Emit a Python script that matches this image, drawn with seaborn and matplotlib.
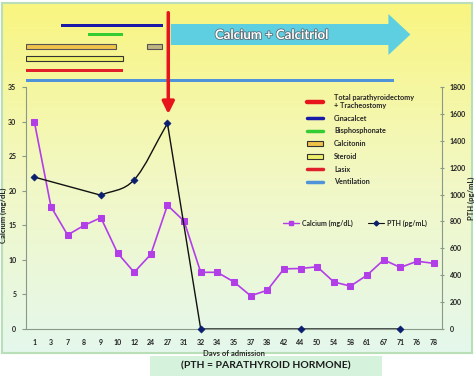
import matplotlib
matplotlib.use('Agg')
import matplotlib.pyplot as plt
import matplotlib.patheffects as pe
from matplotlib.patches import Patch, FancyArrow, PathPatch, Rectangle
from matplotlib.lines import Line2D
from matplotlib.path import Path
import seaborn as sns
import numpy as np
import pandas as pd

# data --------------------------------------------------------------------
days = ['1', '3', '7', '8', '9', '10', '12', '24', '27', '31', '32', '34', '35',
        '37', '38', '42', '44', '50', '54', '58', '61', '67', '71', '76', '78']
calcium = [30.0, 17.7, 13.6, 15.0, 16.1, 11.0, 8.2, 10.8, 17.9, 15.6, 8.2, 8.2, 6.8,
           4.8, 5.6, 8.7, 8.75, 9.0, 6.8, 6.2, 7.8, 10.0, 8.9, 9.8, 9.5]

pth_days = ['1', '9', '12', '27', '32', '44', '71']
pth = [1130, 995, 1110, 1530, 0, 0, 0]

# treatments, start/end in positions on the day axis
treat_names = ['Cinacalcet', 'Bisphosphonate', 'Calcitonin', 'Calcitonin', 'Steroid', 'Lasix', 'Ventilation']
treat_start = [1.6, 3.25, -0.5, 6.75, -0.5, -0.5, -0.5]
treat_end = [7.75, 5.33, 4.9, 7.7, 5.35, 5.3, 21.6]
surgery_pos = 8.05
calcitriol_start = 8.2
calcitriol_end = 22.6

# styling ------------------------------------------------------------------
sns.set_style('white')
plt.rcParams['font.family'] = ['Lato', 'DejaVu Sans']
plt.rcParams['font.weight'] = 'bold'

W, H = 474, 379
fig = plt.figure(figsize=(W / 100, H / 100), dpi=100)
fig.patch.set_facecolor('white')

def fx(px):
    return px / W

def fy(py):
    return 1 - py / H

# background panel with yellow -> mint gradient
bg = fig.add_axes([fx(2), fy(353), fx(470), 350 / H], zorder=-5)
top_c = np.array([249, 245, 128]) / 255
mid_c = np.array([242, 248, 196]) / 255
bot_c = np.array([228, 247, 236]) / 255
t = np.linspace(0, 1, 200)[:, None]
grad = np.where(t < 0.5, top_c + (mid_c - top_c) * (t / 0.5), mid_c + (bot_c - mid_c) * ((t - 0.5) / 0.5))
bg.imshow(grad[:, None, :].repeat(2, axis=1), aspect='auto', extent=[0, 1, 0, 1])
bg.set_xticks([])
bg.set_yticks([])
for s in bg.spines.values():
    s.set_color('#b9dfb9')
    s.set_linewidth(1.5)

# footer box
fig.patches.append(Rectangle((fx(150), fy(376)), fx(232), 20 / H, transform=fig.transFigure,
                             facecolor='#d5f2dc', edgecolor='none'))
fig.text(fx(266), fy(366), '(PTH = PARATHYROID HORMONE)', ha='center', va='center',
         fontsize=7.5, fontweight='bold', color='#1a1a1a')

# top axes for treatment bars
ax_top = fig.add_axes([fx(26), fy(87), fx(416), 87 / H])
ax_top.set_xlim(-0.5, 24.5)
ax_top.set_ylim(87, 0)
ax_top.axis('off')

rows = [25.7, 34.7, 46.3, 46.3, 58.3, 70.0, 80.7]
styles = {
    'Cinacalcet': dict(color='#1a1aa8', edge='none', h=3.0),
    'Bisphosphonate': dict(color='#33cc33', edge='none', h=3.0),
    'Calcitonin': dict(color='#f0c24a', edge='#555555', h=4.5),
    'Steroid': dict(color='#eef06a', edge='#333333', h=4.5),
    'Lasix': dict(color='#e0202a', edge='none', h=3.0),
    'Ventilation': dict(color='#4f93d8', edge='none', h=2.5),
}
for i, name in enumerate(treat_names):
    st = styles[name]
    fc = st['color']
    if name == 'Calcitonin' and i == 3:
        fc = '#bfb483'
    ax_top.barh(rows[i], treat_end[i] - treat_start[i], left=treat_start[i], height=st['h'],
                color=fc, edgecolor=st['edge'], linewidth=0.8)

ax_top.add_patch(FancyArrow(calcitriol_start, 34.5, calcitriol_end - calcitriol_start, 0,
                            width=21, head_width=41, head_length=1.32, length_includes_head=True,
                            color='#5dcfe0', linewidth=0))
ax_top.text(14.3, 35, 'Calcium + Calcitriol', ha='center', va='center', fontsize=9.5,
            color='white', fontweight='bold',
            path_effects=[pe.withStroke(linewidth=1.2, foreground='#5a6f78')])

# main axes
ax = fig.add_axes([fx(26), fy(329), fx(416), 242 / H])
ax.patch.set_alpha(0)
pos = np.arange(len(days))
df = pd.DataFrame({'pos': pos, 'day': days, 'calcium': calcium})
sns.lineplot(data=df, x='pos', y='calcium', ax=ax, color='#b23ee8', marker='s',
             markersize=4, markeredgecolor='#b23ee8', linewidth=1.2, label='Calcium (mg/dL)',
             legend=False)
ax.set_xlim(-0.5, 24.5)
ax.set_ylim(0, 35)
ax.set_yticks(range(0, 36, 5))
ax.set_xticks(pos)
ax.set_xticklabels(days)
ax.set_xticks(np.arange(-0.5, 25, 1), minor=True)
ax.tick_params(axis='x', which='major', length=0, pad=7, labelsize=5, colors='#222222')
ax.tick_params(axis='x', which='minor', length=4, direction='inout', color='#8a9a8a', width=0.6)
ax.tick_params(axis='y', length=3, direction='out', labelsize=5, pad=4, colors='#222222', color='#8a9a8a')
ax.set_xlabel('Days of admission', fontsize=5.5, fontweight='bold', labelpad=3)
ax.set_ylabel('Calcium (mg/dL)', fontsize=5.5, fontweight='bold')
ax.yaxis.set_label_coords(-0.045, 0.47)
for side in ['left', 'bottom']:
    ax.spines[side].set_color('#8a9a8a')
    ax.spines[side].set_linewidth(0.8)
ax.spines['top'].set_visible(False)
ax.spines['right'].set_visible(False)

# PTH on a twin axis
ax2 = ax.twinx()
pth_pos = [days.index(d) for d in pth_days]
pth_df = pd.DataFrame({'pos': pth_pos, 'pth': pth})
x_p = pth_df['pos'].to_numpy(dtype=float)
y_p = pth_df['pth'].to_numpy(dtype=float)
# smoothed segment through days 9-12-27, straight elsewhere
t4 = np.array([x_p[2] - x_p[1], y_p[2] - y_p[1]])
t6 = np.array([(x_p[3] - x_p[1]) / 2, (y_p[3] - y_p[1]) / 2])
t8 = np.array([x_p[3] - x_p[2], y_p[3] - y_p[2]])
p = np.column_stack([x_p, y_p])
verts = [p[0], p[1],
         p[1] + t4 / 3, p[2] - t6 / 3, p[2],
         p[2] + t6 / 3, p[3] - t8 / 3, p[3],
         p[4], p[5], p[6]]
codes = [Path.MOVETO, Path.LINETO,
         Path.CURVE4, Path.CURVE4, Path.CURVE4,
         Path.CURVE4, Path.CURVE4, Path.CURVE4,
         Path.LINETO, Path.LINETO, Path.LINETO]
ax2.add_patch(PathPatch(Path(verts, codes), facecolor='none', edgecolor='#111111', linewidth=1.0))
sns.scatterplot(data=pth_df, x='pos', y='pth', ax=ax2, marker='D', s=14, color='#0b1f70',
                edgecolor='#0b1f70', zorder=5, clip_on=False, legend=False)
ax2.set_ylim(0, 1800)
ax2.set_yticks(range(0, 1801, 200))
ax2.tick_params(axis='y', length=3, direction='inout', labelsize=5, pad=4, colors='#222222', color='#8a9a8a')
ax2.set_ylabel('PTH (pg/mL)', fontsize=5.5, fontweight='bold')
ax2.yaxis.set_label_coords(1.062, 0.54)
ax2.set_xlabel('Days of admission', fontsize=5.5, fontweight='bold', labelpad=3)
ax2.spines['right'].set_color('#8a9a8a')
ax2.spines['right'].set_linewidth(0.8)
for side in ['left', 'bottom', 'top']:
    ax2.spines[side].set_visible(False)

# surgery marker: red vertical arrow
ax.annotate('', xy=(surgery_pos, 31.1), xytext=(surgery_pos, 45.75), xycoords='data',
            arrowprops=dict(arrowstyle='-|>,head_length=0.6,head_width=0.3', color='#e8141c',
                            lw=2.5, mutation_scale=12, shrinkA=0, shrinkB=0),
            annotation_clip=False, zorder=10)

# treatment legend
treat_handles = [
    Line2D([], [], color='#e8141c', lw=3.2),
    Line2D([], [], color='#1a1aa8', lw=2.5),
    Line2D([], [], color='#33cc33', lw=2.5),
    Patch(facecolor='#f0c24a', edgecolor='#333333', linewidth=0.8),
    Patch(facecolor='#eef06a', edgecolor='#333333', linewidth=0.8),
    Line2D([], [], color='#e0202a', lw=2.5),
    Line2D([], [], color='#4f93d8', lw=2.5),
]
treat_labels = ['Total parathyroidectomy\n+ Tracheostomy', 'Cinacalcet', 'Bisphosphonate',
                'Calcitonin', 'Steroid', 'Lasix', 'Ventilation']
leg1 = fig.legend(treat_handles, treat_labels, loc='upper left', bbox_to_anchor=(fx(303), fy(90)),
                  frameon=False, prop={'size': 5.2, 'weight': 'bold'}, handlelength=2.2,
                  handleheight=0.55, handletextpad=1.6, labelspacing=0.8, borderpad=0)

data_handles = [
    Line2D([], [], color='#b23ee8', lw=1.0, marker='s', markersize=3),
    Line2D([], [], color='#111111', lw=0.8, marker='D', markersize=2.5,
           markerfacecolor='#0b1f70', markeredgecolor='#0b1f70'),
]
fig.legend(data_handles, ['Calcium (mg/dL)', 'PTH (pg/mL)'], loc='center left',
           bbox_to_anchor=(fx(280), fy(223)), ncol=2, frameon=False,
           prop={'size': 5, 'weight': 'bold'}, handlelength=2.2, handletextpad=0.5,
           columnspacing=2.2, borderpad=0)

fig.savefig('out.png', dpi=100)
